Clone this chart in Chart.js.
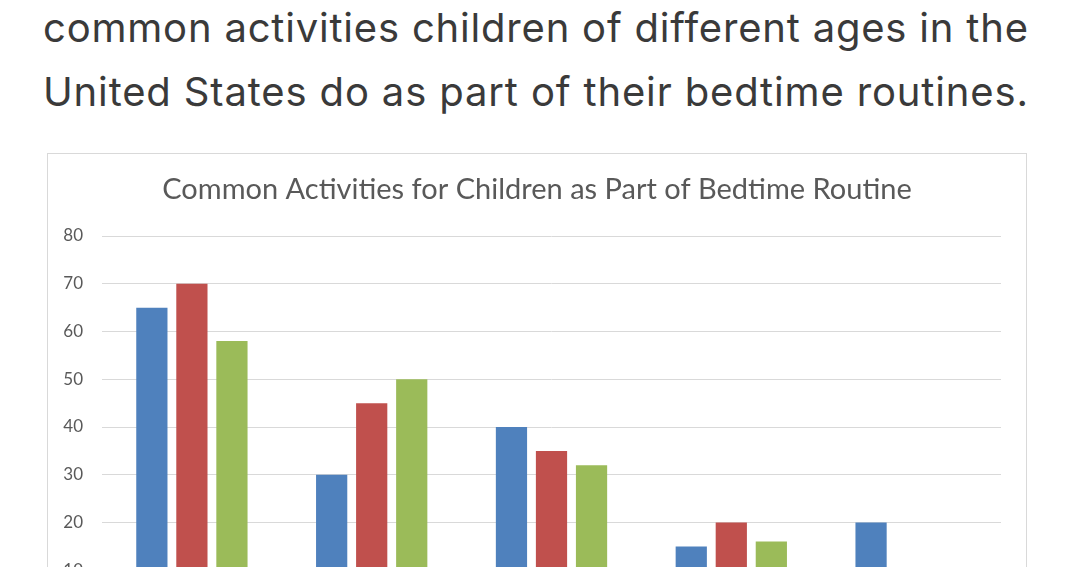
<!DOCTYPE html>
<html>
<head>
<meta charset="utf-8">
<script src="https://cdn.jsdelivr.net/npm/chart.js@4.4.1/dist/chart.umd.min.js"></script>
<style>
  html, body { margin: 0; padding: 0; background: #ffffff; overflow: hidden; width: 1080px; height: 567px; }
  #intro {
    position: absolute; left: 43px; top: -4px; width: 1035px;
    font-family: Inter, Roboto, "Liberation Sans", sans-serif; font-size: 40px; line-height: 64px;
    color: #3a3a3a; white-space: nowrap;
  }
  #intro span { display: inline-block; }
  #box {
    position: absolute; left: 47px; top: 153px; width: 978px; height: 546px;
    border: 1px solid #d9d9d9; background: #ffffff;
  }
  #box canvas { display: block; }
</style>
</head>
<body>
<div id="intro"><span id="l1">common activities children of different ages in the</span><br><span id="l2">United States do as part of their bedtime routines.</span></div>
<div id="box"><canvas id="c" width="978" height="546"></canvas></div>
<script>
// fit each intro line to the reference line length
["l1", "l2"].forEach(id => {
  const el = document.getElementById(id);
  const target = 985;
  const w = el.getBoundingClientRect().width;
  const n = el.textContent.length - 1;
  el.style.letterSpacing = ((target - w) / n).toFixed(3) + "px";
});

const chartTitle = "Common Activities for Children as Part of Bedtime Routine";
const categories = ["Brush teeth", "Read a book", "Take a bath", "Have a snack", "Watch TV"];
const seriesNames = ["Ages 3-5", "Ages 6-8", "Ages 9-11"];
const ages35 = [65, 30, 40, 15, 20];
const ages68 = [70, 45, 35, 20, 8];
const ages911 = [58, 50, 32, 16, 5];
const yTicks = [0, 10, 20, 30, 40, 50, 60, 70, 80];
const colors = ["#4F81BD", "#C0504D", "#9BBB59"];

const ctx = document.getElementById("c").getContext("2d");
new Chart(ctx, {
  type: "bar",
  data: {
    labels: categories,
    datasets: [ages35, ages68, ages911].map((d, i) => ({
      label: seriesNames[i],
      data: d,
      backgroundColor: colors[i],
      borderWidth: 0,
      categoryPercentage: 0.668,
      barPercentage: 0.78
    }))
  },
  options: {
    responsive: false,
    animation: false,
    devicePixelRatio: 1,
    layout: { padding: { left: 0, right: 0, top: 0, bottom: 10 } },
    plugins: {
      title: {
        display: true,
        text: chartTitle,
        color: "#595959",
        font: { family: "Lato, 'Open Sans', sans-serif", size: 29, weight: "normal" },
        padding: { top: 18, bottom: 29.2 }
      },
      legend: {
        display: true,
        position: "bottom",
        labels: { color: "#595959", font: { family: "Lato, sans-serif", size: 16 }, boxWidth: 12, boxHeight: 12, padding: 10 }
      },
      tooltip: { enabled: false }
    },
    scales: {
      x: {
        grid: { display: false },
        border: { display: true, color: "#d9d9d9" },
        ticks: { color: "#595959", font: { family: "Lato, sans-serif", size: 16 } },
        afterFit: (s) => { s.height = 36; }
      },
      y: {
        min: yTicks[0],
        max: yTicks[yTicks.length - 1],
        afterBuildTicks: (s) => { s.ticks = yTicks.map(v => ({ value: v })); },
        grid: { color: "#d9d9d9", lineWidth: 1, drawTicks: false },
        border: { display: false },
        ticks: { color: "#595959", padding: 19, font: { family: "Lato, sans-serif", size: 17 } },
        afterFit: (s) => { s.width = 54; }
      },
      yRight: {
        type: "linear",
        position: "right",
        display: true,
        grid: { display: false, drawTicks: false },
        border: { display: false },
        ticks: { display: false },
        afterFit: (s) => { s.width = 25; }
      }
    }
  }
});
</script>
</body>
</html>
